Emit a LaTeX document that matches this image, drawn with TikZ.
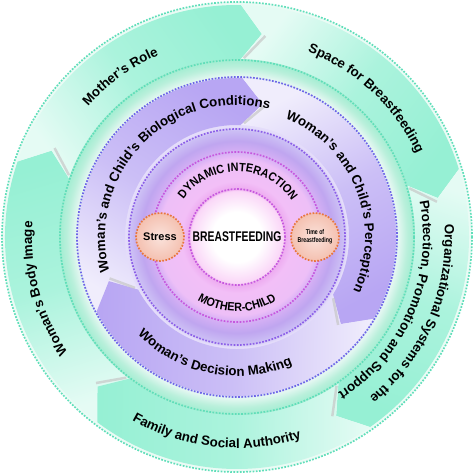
\documentclass[tikz,border=0pt]{standalone}
\usepackage{fontspec}
\setmainfont{Liberation Sans}
\newfontfamily\narrowfont[FakeStretch=0.74]{Liberation Sans}
\newfontfamily\semifont[FakeStretch=0.9]{Liberation Sans}
\usetikzlibrary{decorations.text}

\definecolor{palemint}{RGB}{234,251,245}
\definecolor{mint}{RGB}{150,240,212}
\definecolor{mintdot}{RGB}{95,222,185}
\definecolor{lilac}{RGB}{184,166,243}
\definecolor{lilacpale}{RGB}{240,237,252}
\definecolor{bluedot}{RGB}{110,100,232}
\definecolor{violetdot}{RGB}{140,95,232}
\definecolor{magentadot}{RGB}{198,88,222}
\definecolor{peach}{RGB}{244,192,176}
\definecolor{peachdot}{RGB}{232,118,62}

% glow of the inner rings, 25bp = radius 178
\pgfdeclareradialshading{coreglow}{\pgfpointorigin}{%
  rgb(0bp)=(1,1,1); rgb(3.5bp)=(1,1,1);
  rgb(6.46bp)=(0.98,0.84,0.97); rgb(6.74bp)=(0.93,0.67,0.94);
  rgb(7.87bp)=(0.95,0.75,0.97); rgb(10.96bp)=(0.93,0.75,0.97);
  rgb(11.94bp)=(0.84,0.69,0.96); rgb(13.48bp)=(0.75,0.65,0.94);
  rgb(15.03bp)=(0.80,0.75,0.96); rgb(15.45bp)=(0.89,0.86,0.98);
  rgb(18.96bp)=(0.96,0.95,0.99); rgb(22.19bp)=(0.84,0.88,0.97);
  rgb(22.61bp)=(0.90,0.97,0.95); rgb(23.88bp)=(0.73,0.94,0.86);
  rgb(25bp)=(0.63,0.93,0.82); rgb(50bp)=(0.63,0.93,0.82)}

\newcommand\ringfont{\fontsize{13.3}{15}\selectfont\bfseries}
\newcommand\corefont{\semifont\fontsize{12}{14}\selectfont\bfseries}

\tikzset{
  mintband/.style={top color=mint, bottom color=mint!25!white, middle color=mint!80!white},
  lilacband/.style={top color=lilac, bottom color=lilacpale, middle color=lilac!65!lilacpale},
  headshadow/.style={black!22, line width=2.5pt, opacity=0.7},
  dotring/.style={draw=#1, line width=1.7pt, dash pattern=on 1.7pt off 1.5pt},
  ringtext/.style={decorate, decoration={text along path, text align=center, text={|\ringfont|#1}}},
  coretext/.style={decorate, decoration={text along path, text align=center, text={|\corefont|#1}}},
  spot/.style={circle, minimum size=48pt, inner sep=0pt, inner color=peach!45!white, outer color=peach,
    draw=peachdot, line width=1.7pt, dash pattern=on 1.7pt off 1.5pt, align=center}
}

\begin{document}
\begin{tikzpicture}[x=1pt,y=1pt]
  \useasboundingbox (-237,-237) rectangle (237,237);
  % outer ring and its arrows
  \fill[palemint] (0,0) circle[radius=235];
  \foreach \ta/\hb in {233/161,161/89,89/17,17/-55,-55/-127}{
    \pgfmathsetmacro\sa{(\ta+\hb)/2-180}
    \shade[mintband, shading angle=\sa] (\ta:232) arc[start angle=\ta, end angle=\hb, radius=232]
      -- (\hb-6:204.5) -- (\hb:177) arc[start angle=\hb, end angle=\ta, radius=177]
      -- (\ta-6:204.5) -- cycle;
  }
  \foreach \hb in {161,89,17,-55,-127}
    \draw[headshadow] (\hb-7:203) -- (\hb-1.2:179);
  % inner rings
  \shade[shading=coreglow] (0,0) circle[radius=178];
  \foreach \ta/\hb in {208/88,88/-31,-31/-152}{
    \pgfmathsetmacro\sa{(\ta+\hb)/2-180}
    \shade[lilacband, shading angle=\sa] (\ta:159) arc[start angle=\ta, end angle=\hb, radius=159]
      -- (\hb-9:135.5) -- (\hb:112) arc[start angle=\hb, end angle=\ta, radius=112]
      -- (\ta-9:135.5) -- cycle;
  }
  \foreach \hb in {88,-31,-152}
    \draw[headshadow] (\hb-10:134) -- (\hb-1.5:114);
  \draw[dotring=mintdot] (0,0) circle[radius=235];
  \draw[dotring=mintdot] (0,0) circle[radius=177];
  \draw[dotring=bluedot] (0,0) circle[radius=160];
  \draw[dotring=violetdot] (0,0) circle[radius=108];
  \draw[dotring=magentadot] (0,0) circle[radius=85];
  \draw[dotring=magentadot] (0,0) circle[radius=48];

  % texts of the outer ring
  \path[ringtext=Mother's Role] (196:198) arc[start angle=196, end angle=56, radius=198];
  \path[ringtext=Space for Breastfeeding] (117:198) arc[start angle=117, end angle=-23, radius=198];
  \path[ringtext=Organizational Systems for the] (46.5:208) arc[start angle=46.5, end angle=-93.5, radius=208];
  \path[ringtext={Protection, Promotion and Support}] (47:186) arc[start angle=47, end angle=-93, radius=186];
  \path[ringtext=Family and Social Authority] (194:211) arc[start angle=194, end angle=334, radius=211];
  \path[ringtext=Woman's Body Image] (265:205) arc[start angle=265, end angle=125, radius=205];
  % texts of the middle ring
  \path[ringtext=Woman's and Child's Biological Conditions] (225.5:132) arc[start angle=225.5, end angle=45.5, radius=132];
  \path[ringtext=Woman's and Child's Perception] (111.5:128) arc[start angle=111.5, end angle=-68.5, radius=128];
  \path[ringtext=Woman's Decision Making] (179:139) arc[start angle=179, end angle=339, radius=139];
  % inner ring
  \path[coretext=DYNAMIC INTERACTION] (179:65.5) arc[start angle=179, end angle=-1, radius=65.5];
  \path[coretext=MOTHER-CHILD] (180:74.5) arc[start angle=180, end angle=360, radius=74.5];

  \node[font=\narrowfont\bfseries\fontsize{14}{16}\selectfont] (core) at (0,0) {BREASTFEEDING};
  \node[spot, font=\bfseries\fontsize{11}{13}\selectfont] (stress) at (-77,0) {Stress};
  \node[spot, font=\narrowfont\bfseries\fontsize{7}{8}\selectfont] (time) at (78,0) {Time of\\Breastfeeding};
\end{tikzpicture}
\end{document}
